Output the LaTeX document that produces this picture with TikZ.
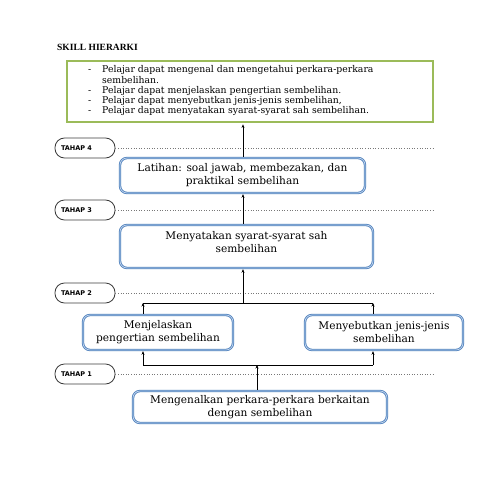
\documentclass[tikz,border=0pt]{standalone}
\usepackage{fontspec}
\setmainfont{DejaVu Serif}
\newfontfamily\tahapfont{DejaVu Sans}
\newfontfamily\titlefont{Liberation Serif}
\usetikzlibrary{arrows.meta}
\definecolor{boxblue}{RGB}{79,129,189}
\definecolor{boxlight}{RGB}{195,214,238}
\definecolor{goalgreen}{RGB}{155,187,89}
\definecolor{pillgray}{RGB}{60,60,60}
\definecolor{dotgray}{RGB}{120,120,120}
\tikzset{
  goalbox/.style={draw=goalgreen, line width=1.8pt, fill=white},
  goaltext/.style={anchor=base west, inner sep=0pt, font=\fontsize{9.3}{10}\selectfont},
  skillbox/.style={draw=boxblue, line width=2.4pt, rounded corners=7pt, fill=white,
    align=center, font=\fontsize{10.6}{13}\selectfont, inner sep=1pt,
    postaction={draw=boxlight, line width=0.7pt}},
  pill/.style={draw=pillgray, line width=0.8pt, rounded corners=9.5pt, minimum width=60pt,
    minimum height=20pt, font=\tahapfont\bfseries\fontsize{6.5}{7}\selectfont,
    text width=48pt, align=left, inner xsep=6pt, inner ysep=0pt},
  levelline/.style={dotgray, line width=0.6pt, dotted},
  uparrow/.style={line width=0.8pt, -{Stealth[length=3.5pt,width=3pt]}},
  busline/.style={line width=0.8pt}
}
\begin{document}
\begin{tikzpicture}[x=1pt,y=-1pt]
\useasboundingbox (0,0) rectangle (495,495);
\fill[white] (0,0) rectangle (495,495);
% title
\node[anchor=base west, inner sep=0pt, font=\titlefont\bfseries\fontsize{9.5}{10}\selectfont] (title) at (57,51) {SKILL HIERARKI};
% goals box
\node[goalbox, minimum width=366pt, minimum height=61pt, inner sep=0pt] (goals) at (250,91.5) {};
\node[goaltext] (d1) at (88,72.5) {-};
\node[goaltext] (g1) at (102,72.5) {Pelajar dapat mengenal dan mengetahui perkara-perkara};
\node[goaltext] (g1b) at (102,83) {sembelihan.};
\node[goaltext] (d2) at (88,93.5) {-};
\node[goaltext] (g2) at (102,93.5) {Pelajar dapat menjelaskan pengertian sembelihan.};
\node[goaltext] (d3) at (88,103.5) {-};
\node[goaltext] (g3) at (102,103.5) {Pelajar dapat menyebutkan jenis-jenis sembelihan,};
\node[goaltext] (d4) at (88,113.5) {-};
\node[goaltext] (g4) at (102,113.5) {Pelajar dapat menyatakan syarat-syarat sah sembelihan.};
% pills and level lines
\node[pill] (t4) at (85,148) {TAHAP 4};
\node[pill] (t3) at (85,210) {TAHAP 3};
\node[pill] (t2) at (85,293) {TAHAP 2};
\node[pill] (t1) at (85,374) {TAHAP 1};
\coordinate (e4) at (433,148);
\coordinate (e3) at (433,210);
\coordinate (e2) at (433,293);
\coordinate (e1) at (433,374);
\draw[levelline] (t4.east) -- (e4);
\draw[levelline] (t3.east) -- (e3);
\draw[levelline] (t2.east) -- (e2);
\draw[levelline] (t1.east) -- (e1);
% skill boxes
\node[skillbox, minimum width=245pt, minimum height=35pt] (lat) at (242.5,175.5) {Latihan: soal jawab, membezakan, dan\\praktikal sembelihan};
\node[skillbox, minimum width=253pt, minimum height=43pt] (syarat) at (246.5,246.5) {Menyatakan syarat-syarat sah\\sembelihan\\[-4pt]};
\node[skillbox, minimum width=150pt, minimum height=35pt] (jelas) at (158,332.5) {Menjelaskan\\pengertian sembelihan};
\node[skillbox, minimum width=158pt, minimum height=35pt] (jenis) at (384,332.5) {Menyebutkan jenis-jenis\\sembelihan};
\node[skillbox, minimum width=254pt, minimum height=32pt] (kenal) at (260,407) {Mengenalkan perkara-perkara berkaitan\\dengan sembelihan};
% connectors
\coordinate (latx) at (243,0);
\draw[uparrow, shorten >=1.5pt] (latx |- lat.north) -- (latx |- goals.south);
\draw[uparrow] (latx |- syarat.north) -- (latx |- lat.south);
% top bus
\coordinate (busT) at (243,303);
\coordinate (busTL) at (143,303);
\coordinate (busTR) at (373,303);
\draw[busline] (busTL) -- (busTR);
\draw[uparrow] (busT) -- (busT |- syarat.south);
\draw[uparrow] (busTL |- jelas.north) -- (busTL);
\draw[uparrow] (busTR |- jenis.north) -- (busTR);
% bottom bus
\coordinate (busB) at (257,365);
\coordinate (busBL) at (143,365);
\coordinate (busBR) at (373,365);
\draw[busline] (busBL) -- (busBR);
\draw[uparrow] (busB |- kenal.north) -- (busB);
\draw[uparrow] (busBL) -- (busBL |- jelas.south);
\draw[uparrow] (busBR) -- (busBR |- jenis.south);
\end{tikzpicture}
\end{document}
